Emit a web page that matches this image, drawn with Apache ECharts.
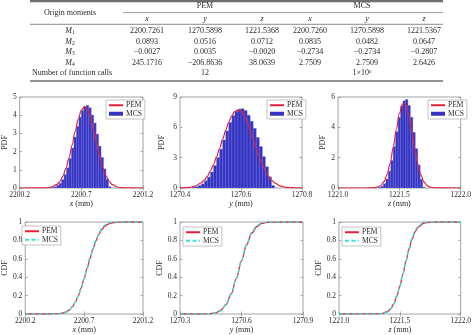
<!DOCTYPE html>
<html><head><meta charset="utf-8">
<script src="https://cdn.jsdelivr.net/npm/echarts@6/dist/echarts.min.js"></script>
<style>html,body{margin:0;padding:0;background:#fff}#c{width:474px;height:335px}</style>
</head><body><div id="c"></div>
<script>
// ---------- table data ----------
const tableGroups = ['PEM', 'MCS'];
const tableColHeaders = ['x', 'y', 'z', 'x', 'y', 'z'];
const momentIndex = ['1', '2', '3', '4'];
const pemMoments = [
  ['2200.7261', '1270.5898', '1221.5368'],
  ['0.0893', '0.0516', '0.0712'],
  ['\u22120.0027', '0.0035', '\u22120.0020'],
  ['245.1716', '\u2212206.8636', '38.0639']
];
const mcsMoments = [
  ['2200.7260', '1270.5898', '1221.5367'],
  ['0.0835', '0.0482', '0.0647'],
  ['\u22120.2734', '\u22120.2734', '\u22120.2807'],
  ['2.7509', '2.7509', '2.6426']
];
const functionCalls = ['12', '1\u00d710', '6'];

// ---------- PDF: MCS histograms ----------
const pdfXBinWidth = 0.02;
const pdfXBins = [2200.47,2200.49,2200.51,2200.53,2200.55,2200.57,2200.59,2200.61,2200.63,2200.65,2200.67,2200.69,2200.71,2200.73,2200.75,2200.77,2200.79,2200.81,2200.83,2200.85,2200.87,2200.89,2200.91,2200.93];
const pdfXMcs  = [0.03,0.07,0.15,0.26,0.46,0.74,1.11,1.62,2.19,2.79,3.38,3.89,4.25,4.46,4.54,4.41,4.01,3.57,2.96,2.30,1.68,1.05,0.48,0.07];

const pdfYBinWidth = 0.01;
const pdfYBins = [1270.445,1270.455,1270.465,1270.475,1270.485,1270.495,1270.505,1270.515,1270.525,1270.535,1270.545,1270.555,1270.565,1270.575,1270.585,1270.595,1270.605,1270.615,1270.625,1270.635,1270.645,1270.655,1270.665,1270.675,1270.685,1270.695,1270.705];
const pdfYMcs  = [0.06,0.13,0.25,0.41,0.71,1.08,1.58,2.22,3.01,3.84,4.75,5.64,6.49,7.16,7.59,7.80,7.84,7.66,7.2,6.6,5.9,5.0,4.1,3.1,2.1,1.1,0.25];

const pdfZBinWidth = 0.02;
const pdfZBins = [1221.34,1221.36,1221.38,1221.40,1221.42,1221.44,1221.46,1221.48,1221.50,1221.52,1221.54,1221.56,1221.58,1221.60,1221.62,1221.64,1221.66,1221.68,1221.70];
const pdfZMcs  = [0.04,0.12,0.28,0.59,1.11,1.81,2.72,3.71,4.65,5.41,5.75,5.84,5.44,4.67,3.66,2.60,1.51,0.57,0.05];

// ---------- PDF: PEM curves ----------
const pemXGrid = [2200.2,2200.4,2200.45,2200.5,2200.525,2200.55,2200.575,2200.6,2200.625,2200.65,2200.675,2200.7,2200.726,2200.75,2200.775,2200.8,2200.825,2200.85,2200.875,2200.9,2200.925,2200.95,2201.0,2201.05,2201.2];
const pemXPdf  = [0,0.006,0.037,0.18,0.355,0.64,1.07,1.65,2.36,3.11,3.79,4.28,4.47,4.31,3.84,3.17,2.42,1.70,1.11,0.67,0.37,0.19,0.04,0.006,0];

const pemYGrid = [1270.40,1270.43,1270.45,1270.47,1270.48,1270.49,1270.50,1270.51,1270.52,1270.53,1270.54,1270.55,1270.56,1270.57,1270.58,1270.59,1270.60,1270.61,1270.62,1270.63,1270.64,1270.65,1270.66,1270.67,1270.68,1270.69,1270.70,1270.71,1270.73,1270.75,1270.78,1270.80];
const pemYPdf  = [0.009,0.063,0.195,0.52,0.80,1.18,1.70,2.32,3.10,3.93,4.85,5.72,6.54,7.17,7.59,7.73,7.58,7.16,6.53,5.70,4.81,3.91,3.06,2.31,1.68,1.17,0.79,0.51,0.19,0.062,0.009,0.002];

const pemZGrid = [1221.0,1221.2,1221.25,1221.3,1221.325,1221.35,1221.375,1221.4,1221.425,1221.45,1221.475,1221.5,1221.525,1221.537,1221.55,1221.575,1221.6,1221.625,1221.65,1221.675,1221.7,1221.725,1221.75,1221.8,1222.0];
const pemZPdf  = [0,0.0001,0.0017,0.022,0.067,0.18,0.42,0.88,1.63,2.66,3.84,4.90,5.52,5.60,5.51,4.86,3.79,2.61,1.59,0.86,0.41,0.17,0.064,0.006,0];

// ---------- CDF curves ----------
const cdfXGrid = [2200.2,2200.4,2200.45,2200.5,2200.525,2200.55,2200.575,2200.6,2200.625,2200.65,2200.675,2200.7,2200.725,2200.75,2200.775,2200.8,2200.825,2200.85,2200.875,2200.9,2200.925,2200.95,2201.0,2201.05,2201.2];
const pemXCdf  = [0,0.0001,0.001,0.0057,0.0122,0.0244,0.0455,0.0793,0.129,0.198,0.284,0.386,0.496,0.606,0.708,0.796,0.866,0.918,0.9525,0.974,0.987,0.994,0.999,1,1];
const mcsXCdf  = [0,0,0.0005,0.004,0.010,0.022,0.044,0.078,0.128,0.197,0.283,0.385,0.497,0.610,0.715,0.806,0.877,0.930,0.966,0.988,0.998,1,1,1,1];

const cdfYGrid = [1270.3,1270.4,1270.45,1270.475,1270.5,1270.525,1270.55,1270.575,1270.6,1270.625,1270.65,1270.675,1270.7,1270.725,1270.75,1270.8,1270.9];
const pemYCdf  = [0,0.0001,0.0034,0.013,0.041,0.105,0.220,0.387,0.578,0.752,0.878,0.951,0.984,0.9956,0.999,1,1];
const mcsYCdf  = [0,0,0.002,0.010,0.036,0.100,0.215,0.385,0.580,0.760,0.890,0.962,0.993,1,1,1,1];

const cdfZGrid = [1221.0,1221.3,1221.35,1221.4,1221.425,1221.45,1221.475,1221.5,1221.525,1221.55,1221.575,1221.6,1221.625,1221.65,1221.7,1221.75,1221.8,1222.0];
const pemZCdf  = [0,0.0004,0.0044,0.0274,0.058,0.111,0.193,0.303,0.434,0.573,0.704,0.813,0.892,0.944,0.989,0.9987,1,1];
const mcsZCdf  = [0,0.0002,0.003,0.022,0.052,0.105,0.188,0.300,0.434,0.578,0.715,0.828,0.908,0.960,0.997,1,1,1];

// ---------- tick labels ----------
const xTicksPdfX = [2200.2, 2200.7, 2201.2];
const xTicksPdfY = [1270.4, 1270.6, 1270.8];
const xTicksPdfZ = [1221.0, 1221.5, 1222.0];
const xTicksCdfX = [2200.2, 2200.7, 2201.2];
const xTicksCdfY = [1270.3, 1270.6, 1270.9];
const xTicksCdfZ = [1221.0, 1221.5, 1222.0];
const yTicksPdfX = [0, 1, 2, 3, 4, 5];
const yTicksPdfY = [0, 3, 6, 9];
const yTicksPdfZ = [0, 2, 4, 6];
const yTicksCdf  = [0, 0.2, 0.4, 0.6, 0.8, 1];
const axisVars = ['x', 'y', 'z', 'x', 'y', 'z'];
const legendNames = ['PEM', 'MCS'];

// ---------- build ----------
const FONT = "'Liberation Serif','Times New Roman',serif";
const TXT = '#2a2a2a';
const AX = '#8a8a8a';
const RED = '#e3213a';
const BLUE = '#3434c4';
const CYAN = '#3fe0dc';
const NOSYM = {color:'rgba(0,0,0,0)', opacity:0, borderWidth:0};

const panels = [
  {kind:'pdf', hx:pdfXBins, hy:pdfXMcs, bw:pdfXBinWidth, lx:pemXGrid, ly:pemXPdf, xt:xTicksPdfX, yt:yTicksPdfX},
  {kind:'pdf', hx:pdfYBins, hy:pdfYMcs, bw:pdfYBinWidth, lx:pemYGrid, ly:pemYPdf, xt:xTicksPdfY, yt:yTicksPdfY},
  {kind:'pdf', hx:pdfZBins, hy:pdfZMcs, bw:pdfZBinWidth, lx:pemZGrid, ly:pemZPdf, xt:xTicksPdfZ, yt:yTicksPdfZ},
  {kind:'cdf', lx:cdfXGrid, ly:pemXCdf, my:mcsXCdf, xt:xTicksCdfX, yt:yTicksCdf},
  {kind:'cdf', lx:cdfYGrid, ly:pemYCdf, my:mcsYCdf, xt:xTicksCdfY, yt:yTicksCdf},
  {kind:'cdf', lx:cdfZGrid, ly:pemZCdf, my:mcsZCdf, xt:xTicksCdfZ, yt:yTicksCdf}
];
const gridRects = [[19,97,124,91],[180,97,122,91],[338,97,125,91],[21,222,122,92],[180,222,123,92],[339,222,124,92]];
const legendPos = [[106,100],[267,100],[428,100],[22,226],[183,227],[342,227]];
const yNameGaps = [8, 14, 11, 12, 13, 13];
const xNameGaps = [11, 11, 11, 12, 12, 12];

const grids = [], xAxes = [], yAxes = [], series = [], legends = [];
const zip = (a, b) => a.map((v, i) => [v, b[i]]);

panels.forEach((p, i) => {
  const r = gridRects[i];
  grids.push({left:r[0], top:r[1], width:r[2], height:r[3], show:true, borderColor:AX, borderWidth:0.8, backgroundColor:'#fff'});
  const xmin = p.xt[0], xmax = p.xt[p.xt.length-1];
  const ymax = p.yt[p.yt.length-1];
  const tick = (vals) => ({show:true, inside:true, length:2.5, lineStyle:{color:AX, width:0.7}, customValues:vals});
  xAxes.push({
    type:'value', gridIndex:i, min:xmin, max:xmax, position:'bottom',
    axisLine:{show:false}, splitLine:{show:false}, axisTick:tick(p.xt),
    axisLabel:{customValues:p.xt, formatter:v=>v.toFixed(1), fontSize:7.5, fontFamily:FONT, color:TXT, margin:3},
    name:'{it|' + axisVars[i] + '} (mm)', nameLocation:'middle', nameGap:xNameGaps[i],
    nameTextStyle:{fontSize:8, fontFamily:FONT, color:TXT, rich:{it:{fontStyle:'italic', fontSize:8, fontFamily:FONT, color:TXT}}}
  });
  xAxes.push({
    type:'value', gridIndex:i, min:xmin, max:xmax, position:'top',
    axisLine:{show:false}, splitLine:{show:false}, axisTick:tick(p.xt), axisLabel:{show:false}
  });
  yAxes.push({
    type:'value', gridIndex:i, min:0, max:ymax, position:'left',
    axisLine:{show:false}, splitLine:{show:false}, axisTick:tick(p.yt),
    axisLabel:{customValues:p.yt, fontSize:7.5, fontFamily:FONT, color:TXT, margin:3},
    name: p.kind === 'pdf' ? 'PDF' : 'CDF', nameLocation:'middle', nameGap:yNameGaps[i], nameRotate:90,
    nameTextStyle:{fontSize:8, fontFamily:FONT, color:TXT}
  });
  yAxes.push({
    type:'value', gridIndex:i, min:0, max:ymax, position:'right',
    axisLine:{show:false}, splitLine:{show:false}, axisTick:tick(p.yt), axisLabel:{show:false}
  });
  const xi = 2*i, yi = 2*i;
  const legendBase = {
    left:legendPos[i][0], top:legendPos[i][1], orient:'vertical', padding:[1,3,1,2], itemGap:0,
    itemWidth:14, itemHeight:4, borderColor:'#9a9a9a', borderWidth:0.6, backgroundColor:'#fff',
    selectedMode:false, formatter:n=>n.trim(),
    textStyle:{fontSize:7.5, fontFamily:FONT, color:TXT, lineHeight:8.5, padding:[0,0,0,-2]}
  };
  if (p.kind === 'pdf') {
    const bw = p.bw;
    series.push({
      type:'custom', name:legendNames[1], xAxisIndex:xi, yAxisIndex:yi, clip:true,
      itemStyle:{color:BLUE},
      encode:{x:0, y:1},
      data: zip(p.hx, p.hy),
      renderItem:(params, api) => {
        const x = api.value(0), h = api.value(1);
        const a = api.coord([x - bw/2, 0]);
        const b = api.coord([x + bw/2, h]);
        return {type:'rect', shape:{x:a[0], y:b[1], width:b[0]-a[0], height:a[1]-b[1]},
                style:{fill:BLUE, stroke:'#6a6ad6', lineWidth:0.4}};
      }
    });
    series.push({
      type:'line', name:legendNames[0], xAxisIndex:xi, yAxisIndex:yi, data:zip(p.lx, p.ly),
      smooth:0.35, smoothMonotone:'x', symbol:'none', lineStyle:{color:RED, width:1.2}, itemStyle:{color:RED}, z:5
    });
    legends.push(Object.assign({}, legendBase, {
      data:[{name:legendNames[0], itemStyle:NOSYM}, {name:legendNames[1], icon:'rect', itemStyle:{color:BLUE}}]
    }));
  } else {
    series.push({
      type:'line', name:legendNames[0], xAxisIndex:xi, yAxisIndex:yi, data:zip(p.lx, p.ly),
      smooth:0.35, smoothMonotone:'x', symbol:'none', lineStyle:{color:RED, width:1.3}, itemStyle:{color:RED}
    });
    series.push({
      type:'line', name:legendNames[1] + ' ', xAxisIndex:xi, yAxisIndex:yi, data:zip(p.lx, p.my),
      smooth:0.35, smoothMonotone:'x', symbol:'none', lineStyle:{color:CYAN, width:1.4, type:[4,2.5]}, itemStyle:{color:CYAN}
    });
    legends.push(Object.assign({}, legendBase, {
      data:[{name:legendNames[0], itemStyle:NOSYM}, {name:legendNames[1] + ' ', itemStyle:NOSYM}]
    }));
  }
});

// ---------- table graphic ----------
const colX = [147, 205, 262, 310, 367, 424];
const rowY = [31, 41.7, 52.3, 62.7];
const labelX = 70;
const g = [];
const txt = (x, y, text, extra) => g.push({type:'text', x, y, silent:true,
  style:Object.assign({text, fontSize:8, fontFamily:FONT, fill:TXT, align:'center', verticalAlign:'middle'}, extra || {})});
const hline = (x1, x2, y, w) => g.push({type:'line', silent:true, shape:{x1, y1:y, x2, y2:y}, style:{stroke:'#6f6f6f', lineWidth:w}});
hline(30, 443, 1.2, 2.2);
hline(123, 443, 12.6, 0.7);
hline(30, 443, 24.3, 0.8);
hline(30, 443, 81, 1.6);
txt(labelX, 13.3, 'Origin moments');
txt(205, 6.2, tableGroups[0]);
txt(362, 6.2, tableGroups[1]);
tableColHeaders.forEach((h, j) => txt(colX[j], 18.6, h, {fontStyle:'italic'}));
momentIndex.forEach((m, r) => {
  txt(labelX, rowY[r], '{m|M}{s|' + m + '}', {rich:{
    m:{fontStyle:'italic', fontSize:8, fontFamily:FONT, fill:TXT},
    s:{fontSize:5.5, fontFamily:FONT, fill:TXT, verticalAlign:'bottom', padding:[3,0,0,0]}}});
  pemMoments[r].forEach((v, j) => txt(colX[j], rowY[r], v));
  mcsMoments[r].forEach((v, j) => txt(colX[j+3], rowY[r], v));
});
txt(labelX + 2, 73, 'Number of function calls');
txt(205, 73, functionCalls[0]);
txt(362, 73, '{t|' + functionCalls[1] + '}{p|' + functionCalls[2] + '}', {rich:{
  t:{fontSize:8, fontFamily:FONT, fill:TXT},
  p:{fontSize:5, fontFamily:FONT, fill:TXT, verticalAlign:'top', padding:[0,0,3,0]}}});

const chart = echarts.init(document.getElementById('c'), null, {renderer:'canvas'});
chart.setOption({
  animation:false,
  backgroundColor:'#fff',
  grid:grids, xAxis:xAxes, yAxis:yAxes, series:series, legend:legends,
  graphic:{elements:g}
});
</script></body></html>
